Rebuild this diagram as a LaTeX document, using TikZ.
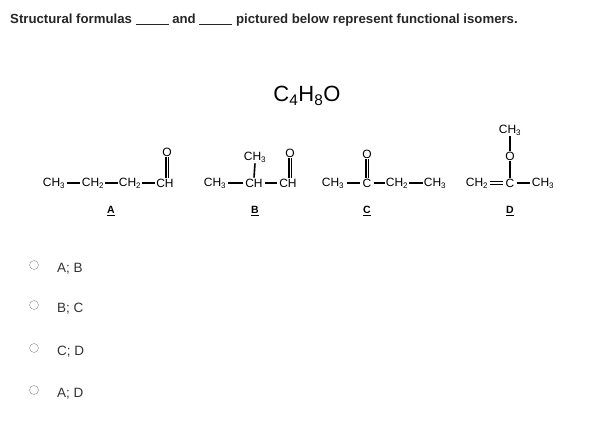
\documentclass[tikz,border=0pt]{standalone}
\usepackage{fontspec}
\setmainfont{Liberation Sans}
\begin{document}
\begin{tikzpicture}[x=1pt,y=-1pt,
  ch/.style={inner sep=0pt,font=\fontsize{12}{13}\selectfont},
  bd/.style={line width=1.6pt},
  lbl/.style={inner sep=0pt,font=\bfseries\fontsize{10.5}{12}\selectfont},
  opt/.style={inner sep=0pt,anchor=west,font=\fontsize{13.5}{15}\selectfont,text=black!80},
  rad/.style={circle,draw=black!45,minimum size=9pt,inner sep=0pt}]
\useasboundingbox (0,0) rectangle (614,428);
\node[inner sep=0pt,anchor=west,font=\bfseries\fontsize{13.2}{15}\selectfont,text=black!85] (t) at (10,20)
 {Structural formulas \rule[-1pt]{33pt}{0.6pt} and \rule[-1pt]{33pt}{0.6pt} pictured below represent functional isomers.};
\node[inner sep=0pt,font=\fontsize{22}{24}\selectfont] (f) at (307,96) {C\textsubscript{4}H\textsubscript{8}O};
% A
\node[ch] (a1) at (54,183) {CH\textsubscript{3}};
\node[ch] (a2) at (93,183) {CH\textsubscript{2}};
\node[ch] (a3) at (130,183) {CH\textsubscript{2}};
\node[ch] (a4) at (165,183) {CH};
\node[ch] (ao) at (167,152) {O};
\draw[bd] ([xshift=2]a1.east) -- ([xshift=-2]a2.west);
\draw[bd] ([xshift=1]a2.east) -- ([xshift=-1]a3.west);
\draw[bd] ([xshift=1]a3.east) -- ([xshift=-1]a4.west);
\draw[bd] ([xshift=-1.3,yshift=1]a4.north-|ao) -- ([xshift=-1.3,yshift=-1]ao.south);
\draw[bd] ([xshift=1.3,yshift=1]a4.north-|ao) -- ([xshift=1.3,yshift=-1]ao.south);
\node[lbl] (la) at (111,211) {\underline{A}};
% B
\node[ch] (b1) at (215,183) {CH\textsubscript{3}};
\node[ch] (b2) at (254,183) {CH};
\node[ch] (b3) at (288,183) {CH};
\node[ch] (bm) at (255,157) {CH\textsubscript{3}};
\node[ch] (bo) at (290,153) {O};
\draw[bd] ([xshift=2]b1.east) -- ([xshift=-2]b2.west);
\draw[bd] ([xshift=2]b2.east) -- ([xshift=-2]b3.west);
\draw[bd] ([yshift=1]b2.north) -- ([yshift=-1]bm.south);
\draw[bd] ([xshift=-1.3,yshift=1]b3.north-|bo) -- ([xshift=-1.3,yshift=-1]bo.south);
\draw[bd] ([xshift=1.3,yshift=1]b3.north-|bo) -- ([xshift=1.3,yshift=-1]bo.south);
\node[lbl] (lb) at (255,211) {\underline{B}};
% C
\node[ch] (c1) at (333,183) {CH\textsubscript{3}};
\node[ch] (c2) at (367,183) {C};
\node[ch] (c3) at (397,183) {CH\textsubscript{2}};
\node[ch] (c4) at (435,183) {CH\textsubscript{3}};
\node[ch] (co) at (367,154) {O};
\draw[bd] ([xshift=3]c1.east) -- ([xshift=-2]c2.west);
\draw[bd] ([xshift=2]c2.east) -- ([xshift=-1]c3.west);
\draw[bd] ([xshift=1]c3.east) -- ([xshift=-1]c4.west);
\draw[bd] ([xshift=-1.3,yshift=1]c2.north) -- ([xshift=-1.3,yshift=-1]co.south);
\draw[bd] ([xshift=1.3,yshift=1]c2.north) -- ([xshift=1.3,yshift=-1]co.south);
\node[lbl] (lc) at (367,211) {\underline{C}};
% D
\node[ch] (d1) at (477,183) {CH\textsubscript{2}};
\node[ch] (d2) at (510,183) {C};
\node[ch] (d3) at (543,183) {CH\textsubscript{3}};
\node[ch] (dO) at (510,156) {O};
\node[ch] (dm) at (510,130) {CH\textsubscript{3}};
\draw[bd] ([xshift=2,yshift=1.4]d1.east) -- ([xshift=-2,yshift=1.4]d2.west);
\draw[bd] ([xshift=2,yshift=-1.4]d1.east) -- ([xshift=-2,yshift=-1.4]d2.west);
\draw[bd] ([xshift=2]d2.east) -- ([xshift=-2]d3.west);
\draw[bd] ([yshift=1]d2.north) -- ([yshift=-1]dO.south);
\draw[bd] ([yshift=1]dO.north) -- ([yshift=-1]dm.south);
\node[lbl] (ld) at (510,211) {\underline{D}};
% options
\foreach \y/\t [count=\i] in {265/{A; B},305/{B; C},348/{C; D},390/{A; D}}{
  \node[rad] (r\i) at (34,\y) {};
  \node[opt] (o\i) at (57,\y+4) {\t};
}
\end{tikzpicture}
\end{document}
